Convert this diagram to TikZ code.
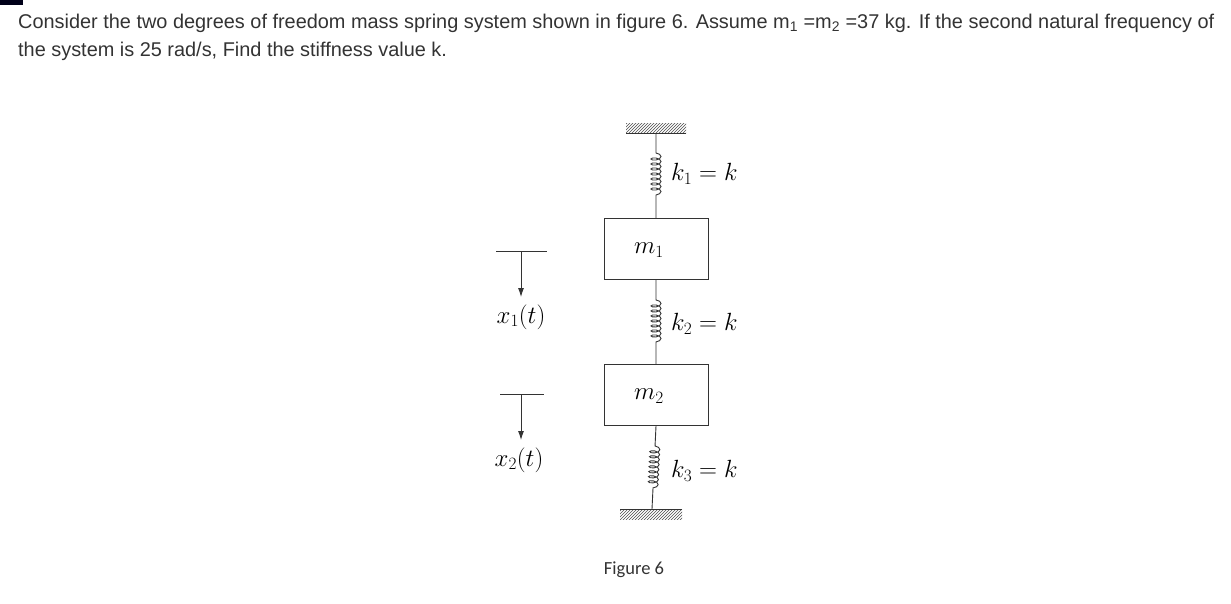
\documentclass[tikz,border=0pt]{standalone}
\usepackage{fontspec}
\setmainfont{Liberation Sans}
\newfontfamily\figfont{Carlito}
\usetikzlibrary{decorations.pathmorphing,patterns,arrows.meta}
\definecolor{txt}{HTML}{333333}
\begin{document}
\begin{tikzpicture}[x=1pt,y=-1pt,
  mass/.style={draw=black!80,line width=0.9pt,minimum width=104pt,minimum height=61pt,inner sep=0pt},
  spr/.style={draw=black!80,line width=0.9pt,decoration={coil,aspect=0.45,amplitude=5pt,segment length=5pt,pre length=20pt,post length=21pt},decorate},
  lab/.style={font=\fontsize{23}{23}\selectfont,anchor=west,inner sep=0pt},
  mlab/.style={font=\fontsize{23}{23}\selectfont},
  arr/.style={black!80,line width=0.9pt,-{Latex[length=9pt,width=6pt]}}]
\useasboundingbox (0,0) rectangle (1231,603);
\fill[black!75!blue!40!black] (0,0) rectangle (23,5);
\node[anchor=base west,inner sep=0pt,text=txt,font=\fontsize{19.9}{20}\selectfont] (l1) at (18,28) {Consider the two degrees of freedom mass spring system shown in figure 6. Assume m\textsubscript{1} =m\textsubscript{2} =37 kg. If the second natural frequency of};
\node[anchor=base west,inner sep=0pt,text=txt,font=\fontsize{19.9}{20}\selectfont] (l2) at (18,56) {the system is 25 rad/s, Find the stiffness value k.};
% grounds
\coordinate (gt) at (656,133);
\coordinate (gb) at (652,509);
\fill[pattern=north east lines,pattern color=black!70] (626,123) rectangle (686,133);
\draw[black!80,line width=0.9pt] (626,133) -- (686,133);
\fill[pattern=north east lines,pattern color=black!70] (620,509) rectangle (682,519);
\draw[black!80,line width=0.9pt] (620,509) -- (682,509);
\node[mass] (m1) at (656,249) {};
\node[mass] (m2) at (656,395) {};
\node[mlab] at (649,250) {$m_1$};
\node[mlab] at (649,396) {$m_2$};
\draw[spr] (gt) -- (m1.north);
\draw[spr] (m1.south) -- (m2.north);
\draw[spr] (m2.south) -- (gb);
\node[lab] at (671,174) {$k_1 = k$};
\node[lab] at (671,324) {$k_2 = k$};
\node[lab] at (671,471) {$k_3 = k$};
% displacement arrows
\coordinate (a1l) at (496,251); \coordinate (a1r) at (547,251);
\coordinate (a1) at (521,251); \coordinate (a1e) at (521,297);
\draw[black!80,line width=0.9pt] (a1l) -- (a1r);
\draw[arr] (a1) -- (a1e);
\node[mlab] at (521,317) {$x_1(t)$};
\coordinate (a2l) at (500,394); \coordinate (a2r) at (544,394);
\coordinate (a2) at (521,394); \coordinate (a2e) at (521,440);
\draw[black!80,line width=0.9pt] (a2l) -- (a2r);
\draw[arr] (a2) -- (a2e);
\node[mlab] at (519,460) {$x_2(t)$};
\node[font=\figfont\fontsize{18.5}{20}\selectfont,text=txt] (cap) at (634,570) {Figure 6};
\end{tikzpicture}
\end{document}
